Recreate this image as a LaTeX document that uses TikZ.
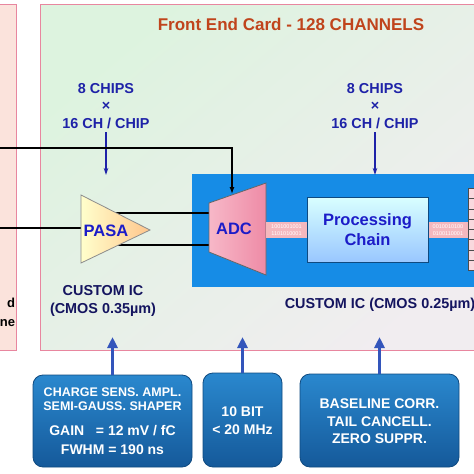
\documentclass[tikz,border=0pt]{standalone}
\usepackage{fontspec}
\setmainfont{Liberation Sans}
\usetikzlibrary{arrows.meta}

\definecolor{cardBorder}{HTML}{E8869F}
\definecolor{cardGreen}{HTML}{DDF3DF}
\definecolor{cardGray}{HTML}{F1EDF0}
\definecolor{panelPink}{HTML}{FBE3DC}
\definecolor{icBlue}{HTML}{168CE6}
\definecolor{chipBlue}{HTML}{1E22A8}
\definecolor{icNavy}{HTML}{14145F}
\definecolor{blockBlue}{HTML}{1C1CC8}
\definecolor{titleRed}{HTML}{C0441C}
\definecolor{stripPink}{HTML}{F4B8BE}
\definecolor{cellPink}{HTML}{F9D9DE}
\definecolor{adcLight}{HTML}{F7B8C8}
\definecolor{adcDark}{HTML}{EE8BA6}
\definecolor{infoTop}{HTML}{2A88CE}
\definecolor{infoBottom}{HTML}{15599A}
\definecolor{infoEdge}{HTML}{0F4A80}
\definecolor{arrowBlue}{HTML}{3355BB}

\begin{document}
\begin{tikzpicture}
[x=1pt,y=-1pt,thick,%
  panelBox/.style={draw=cardBorder,line width=1pt,inner sep=0pt},%
  titleText/.style={text=titleRed,font=\bfseries\fontsize{17}{20}\selectfont},%
  chipText/.style={text=chipBlue,font=\bfseries\fontsize{14.4}{17.5}\selectfont,align=center},%
  icText/.style={text=icNavy,font=\bfseries\fontsize{14.4}{18}\selectfont,align=center},%
  blockText/.style={text=blockBlue,font=\bfseries\fontsize{16.5}{20}\selectfont,align=center},%
  bitStrip/.style={fill=stripPink,minimum height=16pt,inner sep=0pt,text=white,font=\fontsize{5.5}{6.5}\selectfont,align=center},%
  stackCell/.style={draw=black!70,fill=cellPink,line width=0.6pt,minimum width=30pt,minimum height=10.25pt,inner sep=0pt,anchor=north west},%
  infoBox/.style={rounded corners=10pt,draw=infoEdge,line width=0.8pt,top color=infoTop,bottom color=infoBottom,inner sep=0pt},%
  infoText/.style={text=white,font=\bfseries\fontsize{14}{17.5}\selectfont,align=center},%
  infoArrow/.style={-{Triangle[length=11pt,width=10pt]},line width=3pt,draw=arrowBlue},%
  chipArrow/.style={-{Stealth[length=7pt,width=4.5pt]},draw=chipBlue,line width=1.3pt},%
  wire/.style={line width=1.3pt,draw=black}]
\useasboundingbox (0,0) rectangle (474,474);
\clip (0,0) rectangle (474,474);
\fill[white] (0,0) rectangle (474,474);
%% panels
\node[panelBox,fill=panelPink,minimum width=60pt,minimum height=346pt,anchor=north east] (leftPanel) at (17,4) {};
\node[panelBox,top color=cardGreen,bottom color=cardGray,shading angle=40,minimum width=460pt,minimum height=346pt,anchor=north west] (card) at (40,4) {};
\node[fill=icBlue,minimum width=300pt,minimum height=113pt,inner sep=0pt,anchor=north west] (icBlock) at (192,174) {};
\node[titleText] (title) at (291,24) {Front End Card - 128 CHANNELS};
\node[font=\bfseries\fontsize{13}{19}\selectfont,align=right,anchor=east,inner sep=0pt] (leftText) at (15.5,312) {d\\ne};
%% chip counts
\foreach \name/\x in {chipsA/106, chipsB/375}
{
  \node[chipText] (\name) at (\x,106) {8 CHIPS\\×\\16 CH / CHIP};
  \coordinate (\name End) at (\x,175);
  \draw[chipArrow] (\name.south) -- (\name End);
}
%% wires
\coordinate (inTop) at (0,148);
\coordinate (inPasa) at (0,228);
\coordinate (pasaTop) at (81,195);
\coordinate (pasaTip) at (150,230);
\coordinate (pasaBot) at (81,263);
\coordinate (pasaIn) at (81,228);
\coordinate (pasaOutA) at (112,213);
\coordinate (pasaOutB) at (112,245);
\coordinate (adcNW) at (209,203);
\coordinate (adcNE) at (266,183);
\coordinate (adcSE) at (266,275);
\coordinate (adcSW) at (209,252);
\coordinate (adcTopIn) at (232,194);
\draw[wire,-{Latex[length=7pt,width=5pt]}] (inTop) -| (adcTopIn);
\draw[wire] (inPasa) -- (pasaIn);
\draw[wire] (pasaOutA) -- (pasaOutA -| adcNW);
\draw[wire] (pasaOutB) -- (pasaOutB -| adcNW);
%% PASA and ADC
\draw[draw=black!45,line width=0.8pt,left color=yellow!20,right color=orange!45] (pasaTop) -- (pasaTip) -- (pasaBot) -- cycle;
\node[blockText] (pasa) at (106,231) {PASA};
\draw[draw=black!60,line width=0.8pt,left color=adcLight,right color=adcDark] (adcNW) -- (adcNE) -- (adcSE) -- (adcSW) -- cycle;
\node[blockText] (adc) at (234,229) {ADC};
%% digital part
\node[bitStrip,minimum width=41pt] (bitsA) at (286.5,230) {1001001001\\1101010001};
\node[bitStrip,minimum width=40pt] (bitsB) at (448,230) {0010010100\\0100110001};
\node[draw=infoEdge,line width=0.8pt,top color=cyan!15,bottom color=cyan!45!blue!40,minimum width=121pt,minimum height=65pt,inner sep=0pt,blockText] (proc) at (367.5,229.5) {Processing\\Chain};
\foreach \i in {0,...,7}
  \node[stackCell] (cell\i) at (468,{188+10.25*\i}) {};
\node[icText] (icA) at (103,301) {CUSTOM IC\\(CMOS 0.35µm)};
\node[icText] (icB) at (380,305) {CUSTOM IC (CMOS 0.25µm)};
%% info boxes
\node[infoBox,minimum width=159pt,minimum height=92pt] (gainInfo) at (112.5,421) {};
\node[infoText,font=\bfseries\fontsize{12.5}{14}\selectfont] (gainHead) at (112.5,399) {CHARGE SENS. AMPL.\\SEMI-GAUSS. SHAPER};
\node[infoText,font=\bfseries\fontsize{14}{19}\selectfont] (gainVals) at (112.5,440) {GAIN\ \ \ = 12 mV / fC\\FWHM = 190 ns};
\node[infoBox,minimum width=79pt,minimum height=94pt] (adcInfo) at (242.5,420) {};
\node[infoText,font=\bfseries\fontsize{14}{18}\selectfont] (adcVals) at (242.5,421) {10 BIT\\< 20 MHz};
\node[infoBox,minimum width=159pt,minimum height=93pt] (procInfo) at (379.5,420.5) {};
\node[infoText] (procVals) at (379.5,421.5) {BASELINE CORR.\\TAIL CANCELL.\\ZERO SUPPR.};
%% arrows up to the card
\coordinate (arrowLevel) at (0,337);
\foreach \info in {gainInfo, adcInfo, procInfo}
  \draw[infoArrow] (\info.north) -- (\info.north |- arrowLevel);
\end{tikzpicture}
\end{document}
